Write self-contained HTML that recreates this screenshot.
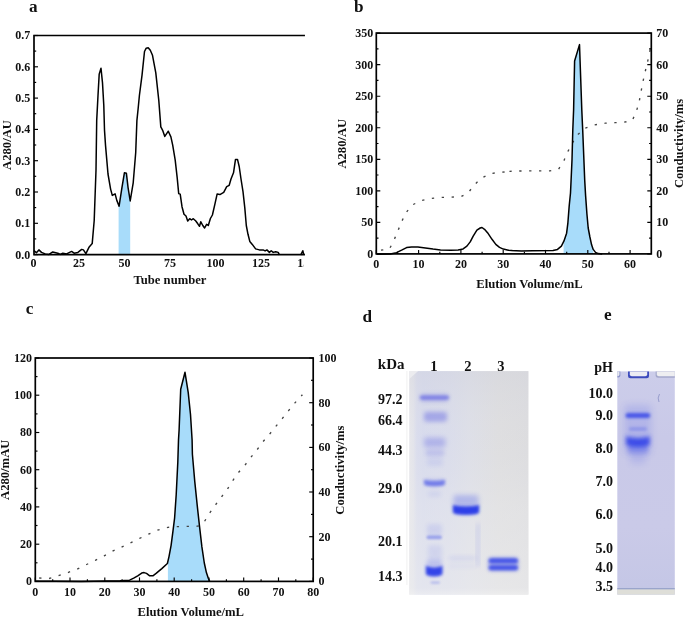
<!DOCTYPE html>
<html><head><meta charset="utf-8"><title>Figure</title>
<style>
html,body{margin:0;padding:0;background:#fff;}
svg{display:block;}
text{font-family:"Liberation Serif","DejaVu Serif",serif;font-weight:bold;fill:#111;}
.t{font-size:12px;}
.l{font-size:12.65px;}
.p{font-size:17.2px;}
.g{font-size:14px;}
.ax{stroke:#000;stroke-width:1.7;fill:none;stroke-linecap:square;}
.tk{stroke:#000;stroke-width:1.15;fill:none;}
.cv{stroke:#000;stroke-width:1.5;fill:none;stroke-linejoin:round;}
.dt{stroke:#444;stroke-width:1.35;fill:none;}
.fl{fill:#a8dcfa;stroke:none;}
</style></head><body>
<svg width="685" height="617" viewBox="0 0 685 617">
<rect width="685" height="617" fill="#fff"/>
<defs>
<filter id="b1" x="-30%" y="-100%" width="160%" height="300%"><feGaussianBlur stdDeviation="1.2"/></filter>
<filter id="b2" x="-30%" y="-100%" width="160%" height="300%"><feGaussianBlur stdDeviation="2"/></filter>
<filter id="b3" x="-30%" y="-100%" width="160%" height="300%"><feGaussianBlur stdDeviation="3.5"/></filter>
<filter id="b15" x="-30%" y="-100%" width="160%" height="300%"><feGaussianBlur stdDeviation="1.5"/></filter>
<filter id="b25" x="-30%" y="-100%" width="160%" height="300%"><feGaussianBlur stdDeviation="2.5"/></filter>
<filter id="b05" x="-30%" y="-100%" width="160%" height="300%"><feGaussianBlur stdDeviation="0.7"/></filter>
</defs>

<g id="pa">
<text class="p" x="28.9" y="11.7">a</text>
<path class="fl" d="M118.6,254.9 L118.6,205.4 L119.1,206.2 L121.9,187.8 L124.4,172.8 L126.4,173.3 L128.1,187.8 L130.2,200.9 L130.2,254.9Z"/>
<path class="cv" d="M33.9,250.7 L36.4,252.7 L38.9,249.9 L41.5,252.4 L45.2,253.9 L49.0,254.4 L52.8,251.9 L57.8,253.2 L60.3,254.4 L62.8,253.2 L66.6,253.9 L71.6,251.4 L74.1,253.2 L77.9,252.4 L81.7,249.4 L83.4,249.9 L85.9,253.7 L89.2,246.9 L92.2,243.6 L94.2,220.5 L96.0,170.3 L96.7,120.6 L98.0,95.5 L99.2,74.1 L101.0,68.3 L102.5,82.9 L103.8,105.5 L104.5,130.1 L105.5,145.1 L108.0,174.0 L110.6,189.1 L112.3,195.4 L115.1,193.9 L116.8,200.4 L119.1,206.2 L121.9,187.8 L124.4,172.8 L126.4,173.3 L128.1,187.8 L130.2,200.9 L133.2,182.8 L135.7,152.7 L136.9,120.6 L138.2,108.0 L139.4,95.5 L142.0,75.4 L144.5,51.5 L146.2,48.2 L148.2,47.7 L150.3,50.3 L152.5,55.3 L155.8,72.9 L158.8,100.5 L160.8,126.9 L162.8,130.7 L164.8,136.4 L168.3,131.2 L170.9,136.9 L172.7,145.1 L175.2,160.2 L177.2,177.8 L178.7,193.6 L180.2,194.1 L182.0,206.7 L184.0,214.2 L186.0,216.0 L187.7,221.0 L189.7,218.7 L191.5,220.0 L193.3,218.7 L195.8,221.0 L197.8,223.8 L199.5,226.3 L200.8,221.8 L202.8,225.5 L204.6,228.0 L206.6,224.3 L208.3,225.5 L210.4,218.5 L212.4,215.0 L214.9,204.2 L217.1,194.1 L219.9,194.6 L223.7,192.4 L226.7,186.6 L229.2,185.3 L231.0,179.0 L233.5,172.8 L235.5,159.4 L237.5,159.4 L239.2,166.5 L241.0,179.0 L243.0,191.6 L244.8,207.9 L246.3,225.5 L248.0,234.3 L249.8,241.4 L252.3,244.4 L255.6,248.9 L259.3,249.9 L263.1,249.9 L265.1,250.9 L266.9,249.9 L269.4,252.4 L271.2,250.7 L273.2,252.4 L275.7,251.7 L278.2,252.4 L279.4,254.9"/>
<path class="cv" d="M300.8,254.9 L302.8,250.7 L303.8,254.9"/>
<path class="ax" d="M304.1,35.5 H34 V254.6 H304.1"/>
<path class="tk" d="M34,254.6 h4"/>
<text class="t" x="30.2" y="258.5" text-anchor="end">0.0</text>
<path class="tk" d="M34,238.9 h2.2"/>
<path class="tk" d="M34,223.3 h4"/>
<text class="t" x="30.2" y="227.2" text-anchor="end">0.1</text>
<path class="tk" d="M34,207.6 h2.2"/>
<path class="tk" d="M34,192.0 h4"/>
<text class="t" x="30.2" y="195.9" text-anchor="end">0.2</text>
<path class="tk" d="M34,176.3 h2.2"/>
<path class="tk" d="M34,160.7 h4"/>
<text class="t" x="30.2" y="164.6" text-anchor="end">0.3</text>
<path class="tk" d="M34,145.0 h2.2"/>
<path class="tk" d="M34,129.4 h4"/>
<text class="t" x="30.2" y="133.3" text-anchor="end">0.4</text>
<path class="tk" d="M34,113.7 h2.2"/>
<path class="tk" d="M34,98.1 h4"/>
<text class="t" x="30.2" y="102.0" text-anchor="end">0.5</text>
<path class="tk" d="M34,82.4 h2.2"/>
<path class="tk" d="M34,66.8 h4"/>
<text class="t" x="30.2" y="70.7" text-anchor="end">0.6</text>
<path class="tk" d="M34,51.1 h2.2"/>
<path class="tk" d="M34,35.5 h4"/>
<text class="t" x="30.2" y="39.4" text-anchor="end">0.7</text>
<text class="t" x="33.6" y="267.4" text-anchor="middle">0</text>
<text class="t" x="79.1" y="267.4" text-anchor="middle">25</text>
<text class="t" x="124.6" y="267.4" text-anchor="middle">50</text>
<text class="t" x="170.1" y="267.4" text-anchor="middle">75</text>
<text class="t" x="215.6" y="267.4" text-anchor="middle">100</text>
<text class="t" x="261.1" y="267.4" text-anchor="middle">125</text>
<clipPath id="ca"><rect x="0" y="255" width="304.1" height="20"/></clipPath>
<text class="t" x="306.2" y="267.4" text-anchor="middle" clip-path="url(#ca)">150</text>
<text class="l" x="170" y="283.5" text-anchor="middle">Tube number</text>
<text class="l" transform="translate(11,145) rotate(-90)" text-anchor="middle">A280/AU</text>
</g>
<g id="pb">
<text class="p" x="353.9" y="11.7">b</text>
<path class="fl" d="M563.6,254 L563.6,241.7 L564,240.9 L566.6,233.2 L567.9,222.8 L569.2,205.9 L570.5,193 L571.1,180 L572,160 L572.8,130 L573.6,110 L574.6,61 L579.5,44.6 L581.8,110 L582.7,130 L584.7,180 L585.6,195.6 L586.9,213.7 L588.2,228 L589.9,237 L591.6,244.8 L593.2,249.4 L593.2,254Z"/>
<path class="dt" stroke-dasharray="2.3 7.6" d="M381.0,250.2 L389.5,248.9 L394.0,240.1 L398.0,230.6 L401.8,221.3 L406.1,212.5 L412.4,204.9 L421.7,200.4 L431.0,198.4 L441.0,197.4 L451.3,197.1 L461.1,196.6 L468.1,192.9 L474.4,184.8 L481.2,178.3 L490.8,173.5 L500.8,172.3 L510.9,171.5 L509.5,171.3 L519.7,171.0 L529.7,170.8 L540.5,170.8 L550.0,170.8 L558.6,169.1 L564.0,160.5 L568.1,151.1 L572.4,143.0 L577.0,135.4 L585.1,128.1 L594.5,124.9 L605.3,123.2 L614.8,122.7 L624.2,122.2 L632.3,120.5 L636.4,111.3 L639.1,102.1 L641.0,91.8 L643.1,81.0 L645.0,72.4 L647.2,63.5 L649.3,54.0 L650.4,48.6"/>
<path class="cv" d="M376.9,254.2 L390.3,253.9 L396.5,252.7 L401.6,250.2 L406.6,247.6 L411.6,246.9 L417.9,247.1 L425.4,247.9 L433.0,249.1 L440.5,249.9 L450.6,250.2 L458.1,249.9 L463.1,248.9 L466.9,246.1 L470.2,241.9 L473.2,236.1 L476.9,230.1 L480.2,228.0 L482.0,227.5 L484.5,229.3 L488.2,233.6 L492.0,239.3 L495.8,244.4 L499.5,247.4 L503.3,249.1 L508.3,250.2 L512.1,250.4 L510.8,250.4 L521.6,251.0 L532.4,250.7 L553,250.4 L557.5,249.4 L561.4,246.1 L564,240.9 L566.6,233.2 L567.9,222.8 L569.2,205.9 L570.5,193 L571.1,180 L572,160 L572.8,130 L573.6,110 L574.6,61 L579.5,44.6 L581.8,110 L582.7,130 L584.7,180 L585.6,195.6 L586.9,213.7 L588.2,228 L589.9,237 L591.6,244.8 L593.2,249.4 L595.5,252.4 L598.3,253.6 L602.2,254"/>
<rect class="ax" x="376.3" y="33.1" width="275.0" height="220.8"/>
<path class="tk" d="M376.3,253.9 h4 M651.3,253.9 h-4"/>
<text class="t" x="373.3" y="257.8" text-anchor="end">0</text>
<text class="t" x="656.3" y="257.8">0</text>
<path class="tk" d="M376.3,238.1 h2.2 M651.3,238.1 h-2.2"/>
<path class="tk" d="M376.3,222.4 h4 M651.3,222.4 h-4"/>
<text class="t" x="373.3" y="226.3" text-anchor="end">50</text>
<text class="t" x="656.3" y="226.3">10</text>
<path class="tk" d="M376.3,206.6 h2.2 M651.3,206.6 h-2.2"/>
<path class="tk" d="M376.3,190.8 h4 M651.3,190.8 h-4"/>
<text class="t" x="373.3" y="194.7" text-anchor="end">100</text>
<text class="t" x="656.3" y="194.7">20</text>
<path class="tk" d="M376.3,175.0 h2.2 M651.3,175.0 h-2.2"/>
<path class="tk" d="M376.3,159.3 h4 M651.3,159.3 h-4"/>
<text class="t" x="373.3" y="163.2" text-anchor="end">150</text>
<text class="t" x="656.3" y="163.2">30</text>
<path class="tk" d="M376.3,143.5 h2.2 M651.3,143.5 h-2.2"/>
<path class="tk" d="M376.3,127.7 h4 M651.3,127.7 h-4"/>
<text class="t" x="373.3" y="131.6" text-anchor="end">200</text>
<text class="t" x="656.3" y="131.6">40</text>
<path class="tk" d="M376.3,112.0 h2.2 M651.3,112.0 h-2.2"/>
<path class="tk" d="M376.3,96.2 h4 M651.3,96.2 h-4"/>
<text class="t" x="373.3" y="100.1" text-anchor="end">250</text>
<text class="t" x="656.3" y="100.1">50</text>
<path class="tk" d="M376.3,80.4 h2.2 M651.3,80.4 h-2.2"/>
<path class="tk" d="M376.3,64.6 h4 M651.3,64.6 h-4"/>
<text class="t" x="373.3" y="68.5" text-anchor="end">300</text>
<text class="t" x="656.3" y="68.5">60</text>
<path class="tk" d="M376.3,48.9 h2.2 M651.3,48.9 h-2.2"/>
<path class="tk" d="M376.3,33.1 h4 M651.3,33.1 h-4"/>
<text class="t" x="373.3" y="37.0" text-anchor="end">350</text>
<text class="t" x="656.3" y="37.0">70</text>
<path class="tk" d="M376.3,253.9 v-4"/>
<text class="t" x="376.3" y="268.2" text-anchor="middle">0</text>
<path class="tk" d="M397.5,253.9 v-2.2"/>
<path class="tk" d="M418.6,253.9 v-4"/>
<text class="t" x="418.6" y="268.2" text-anchor="middle">10</text>
<path class="tk" d="M439.8,253.9 v-2.2"/>
<path class="tk" d="M460.9,253.9 v-4"/>
<text class="t" x="460.9" y="268.2" text-anchor="middle">20</text>
<path class="tk" d="M482.1,253.9 v-2.2"/>
<path class="tk" d="M503.2,253.9 v-4"/>
<text class="t" x="503.2" y="268.2" text-anchor="middle">30</text>
<path class="tk" d="M524.4,253.9 v-2.2"/>
<path class="tk" d="M545.5,253.9 v-4"/>
<text class="t" x="545.5" y="268.2" text-anchor="middle">40</text>
<path class="tk" d="M566.7,253.9 v-2.2"/>
<path class="tk" d="M587.8,253.9 v-4"/>
<text class="t" x="587.8" y="268.2" text-anchor="middle">50</text>
<path class="tk" d="M609.0,253.9 v-2.2"/>
<path class="tk" d="M630.1,253.9 v-4"/>
<text class="t" x="630.1" y="268.2" text-anchor="middle">60</text>
<text class="l" x="529.5" y="287.6" text-anchor="middle">Elution Volume/mL</text>
<text class="l" transform="translate(346,143.7) rotate(-90)" text-anchor="middle">A280/AU</text>
<text class="l" transform="translate(682.8,143.5) rotate(-90)" text-anchor="middle">Conductivity/ms</text>
</g>
<g id="pc">
<text class="p" x="25.8" y="314.3">c</text>
<path class="fl" d="M167.9,581.2 L167.9,563.2 L169,556.6 L171.1,545.3 L173,530.9 L174.6,518 L176.2,494.8 L177.8,462.4 L178.5,440 L179.1,430 L180.7,389.2 L185,372.3 L188.2,392.4 L190.5,414.5 L192.1,440 L192.4,454.3 L194.8,481.9 L197.3,506.2 L199.5,526.1 L201.9,546.9 L204.3,563 L206.4,572.6 L208.3,578.2 L209,581.2Z"/>
<path class="dt" stroke-dasharray="2.3 7.6" d="M39.2,578.0 L48.7,578.6 L58.2,575.8 L67.7,572.6 L77.1,569.1 L86.6,564.5 L95.3,560.4 L104.2,555.8 L113.1,550.9 L121.3,547.3 L130.4,542.9 L139.6,538.4 L148.6,534.1 L157.7,530.1 L167.9,527.3 L177.8,526.6 L187.8,526.4 L197.6,526.2 L201,525 L204.4,521.6 L209.3,513.5 L215.1,505.4 L221.2,497.3 L227.2,489.5 L232.8,480.5 L238.7,472.2 L244.3,466.0 L250.6,457.7 L257.1,449.7 L263.0,441.7 L269.5,434.3 L275.7,426.5 L282.3,418.5 L288.2,411.1 L294.7,403.1 L301.5,395.7 L302.4,394.7"/>
<path class="cv" d="M35.2,581.3 L54.1,581.3 L81.2,581.5 L120,580.7 L129.6,580.2 L133.7,578.2 L137.7,575.8 L141.7,573.1 L144.1,572.6 L146.5,573.4 L149.7,575.8 L152.9,575.8 L156.1,573.4 L161.8,568.6 L167.4,563.5 L169,556.6 L171.1,545.3 L173,530.9 L174.6,518 L176.2,494.8 L177.8,462.4 L178.5,440 L179.1,430 L180.7,389.2 L185,372.3 L188.2,392.4 L190.5,414.5 L192.1,440 L192.4,454.3 L194.8,481.9 L197.3,506.2 L199.5,526.1 L201.9,546.9 L204.3,563 L206.4,572.6 L208.3,578.2 L209.6,581.1"/>
<rect class="ax" x="35.3" y="358" width="277.9" height="223.4"/>
<path class="tk" d="M35.3,581.4 h4"/>
<text class="t" x="31.9" y="585.3" text-anchor="end">0</text>
<path class="tk" d="M35.3,562.8 h2.2"/>
<path class="tk" d="M35.3,544.2 h4"/>
<text class="t" x="31.9" y="548.1" text-anchor="end">20</text>
<path class="tk" d="M35.3,525.5 h2.2"/>
<path class="tk" d="M35.3,506.9 h4"/>
<text class="t" x="31.9" y="510.8" text-anchor="end">40</text>
<path class="tk" d="M35.3,488.3 h2.2"/>
<path class="tk" d="M35.3,469.7 h4"/>
<text class="t" x="31.9" y="473.6" text-anchor="end">60</text>
<path class="tk" d="M35.3,451.1 h2.2"/>
<path class="tk" d="M35.3,432.5 h4"/>
<text class="t" x="31.9" y="436.4" text-anchor="end">80</text>
<path class="tk" d="M35.3,413.9 h2.2"/>
<path class="tk" d="M35.3,395.2 h4"/>
<text class="t" x="31.9" y="399.1" text-anchor="end">100</text>
<path class="tk" d="M35.3,376.6 h2.2"/>
<path class="tk" d="M35.3,358.0 h4"/>
<text class="t" x="31.9" y="361.9" text-anchor="end">120</text>
<path class="tk" d="M313.2,581.4 h-4"/>
<text class="t" x="318.5" y="585.3">0</text>
<path class="tk" d="M313.2,559.1 h-2.2"/>
<path class="tk" d="M313.2,536.7 h-4"/>
<text class="t" x="318.5" y="540.6">20</text>
<path class="tk" d="M313.2,514.4 h-2.2"/>
<path class="tk" d="M313.2,492.0 h-4"/>
<text class="t" x="318.5" y="495.9">40</text>
<path class="tk" d="M313.2,469.7 h-2.2"/>
<path class="tk" d="M313.2,447.4 h-4"/>
<text class="t" x="318.5" y="451.3">60</text>
<path class="tk" d="M313.2,425.0 h-2.2"/>
<path class="tk" d="M313.2,402.7 h-4"/>
<text class="t" x="318.5" y="406.6">80</text>
<path class="tk" d="M313.2,380.3 h-2.2"/>
<path class="tk" d="M313.2,358.0 h-4"/>
<text class="t" x="318.5" y="361.9">100</text>
<path class="tk" d="M35.3,581.4 v-4"/>
<text class="t" x="35.3" y="595.9" text-anchor="middle">0</text>
<path class="tk" d="M52.7,581.4 v-2.2"/>
<path class="tk" d="M70.0,581.4 v-4"/>
<text class="t" x="70.0" y="595.9" text-anchor="middle">10</text>
<path class="tk" d="M87.4,581.4 v-2.2"/>
<path class="tk" d="M104.8,581.4 v-4"/>
<text class="t" x="104.8" y="595.9" text-anchor="middle">20</text>
<path class="tk" d="M122.1,581.4 v-2.2"/>
<path class="tk" d="M139.5,581.4 v-4"/>
<text class="t" x="139.5" y="595.9" text-anchor="middle">30</text>
<path class="tk" d="M156.9,581.4 v-2.2"/>
<path class="tk" d="M174.2,581.4 v-4"/>
<text class="t" x="174.2" y="595.9" text-anchor="middle">40</text>
<path class="tk" d="M191.6,581.4 v-2.2"/>
<path class="tk" d="M209.0,581.4 v-4"/>
<text class="t" x="209.0" y="595.9" text-anchor="middle">50</text>
<path class="tk" d="M226.4,581.4 v-2.2"/>
<path class="tk" d="M243.7,581.4 v-4"/>
<text class="t" x="243.7" y="595.9" text-anchor="middle">60</text>
<path class="tk" d="M261.1,581.4 v-2.2"/>
<path class="tk" d="M278.5,581.4 v-4"/>
<text class="t" x="278.5" y="595.9" text-anchor="middle">70</text>
<path class="tk" d="M295.8,581.4 v-2.2"/>
<path class="tk" d="M313.2,581.4 v-4"/>
<text class="t" x="313.2" y="595.9" text-anchor="middle">80</text>
<text class="l" x="190.8" y="616" text-anchor="middle">Elution Volume/mL</text>
<text class="l" transform="translate(8.7,469.8) rotate(-90)" text-anchor="middle">A280/mAU</text>
<text class="l" transform="translate(344.4,470.1) rotate(-90)" text-anchor="middle">Conductivity/ms</text>
</g>
<g id="pd">
<text class="p" x="362.5" y="322.1">d</text>
<linearGradient id="gd" x1="0" x2="1" y1="0" y2="0">
<stop offset="0" stop-color="#e9e9ec"/><stop offset="0.035" stop-color="#e4e5ec"/><stop offset="0.065" stop-color="#d9dcee"/><stop offset="0.12" stop-color="#d6daee"/>
<stop offset="0.34" stop-color="#d9dcec"/><stop offset="0.5" stop-color="#dddfe8"/><stop offset="0.75" stop-color="#dededf"/><stop offset="1" stop-color="#dcdcde"/></linearGradient>
<linearGradient id="gdv" x1="0" x2="0" y1="0" y2="1">
<stop offset="0" stop-color="#d2d3dc" stop-opacity="0.45"/><stop offset="0.3" stop-color="#e0e0e6" stop-opacity="0.15"/><stop offset="0.6" stop-color="#eaeaec" stop-opacity="0.4"/><stop offset="0.97" stop-color="#ececee" stop-opacity="0.6"/><stop offset="1" stop-color="#f2f2f2" stop-opacity="0.75"/></linearGradient>
<path d="M406.9,371 V585" stroke="#ececec" stroke-width="0.8"/>
<rect x="409.2" y="371.1" width="119.2" height="223.5" fill="url(#gd)"/>
<rect x="409.2" y="371.1" width="119.2" height="223.5" fill="url(#gdv)"/>
<path d="M409.2,371.1 h9 l-9,8 z" fill="#f0f0f2" opacity="0.8" filter="url(#b05)"/>
<clipPath id="cd"><rect x="409.2" y="371.1" width="119.2" height="223.5"/></clipPath>
<g clip-path="url(#cd)">
<rect x="420" y="393.8" width="28.5" height="8" rx="3" fill="#4a4ce0" opacity="0.22" filter="url(#b2)"/>
<rect x="419.8" y="395.5" width="29.4" height="4.2" rx="2.1" fill="#4446e2" opacity="0.5" filter="url(#b15)"/>
<rect x="424" y="411.8" width="23.0" height="10" rx="3" fill="#4a4ce0" opacity="0.36" filter="url(#b2)"/>
<rect x="424" y="437.5" width="21.5" height="10" rx="3" fill="#4a4ce0" opacity="0.28" filter="url(#b25)"/>
<rect x="425.5" y="450.0" width="19.0" height="6" rx="3.0" fill="#4a4ce0" opacity="0.2" filter="url(#b2)"/>
<rect x="427" y="458.0" width="16.0" height="8" rx="3" fill="#2f40e8" opacity="0.08" filter="url(#b2)"/>
<path d="M424,479.7 Q434.5,482.3 445,479.7 L445,484.1 Q445,486.3 434.5,486.5 Q424,486.3 424,484.1 Z" fill="#3a46e6" opacity="0.6" filter="url(#b15)"/>
<rect x="424.5" y="479.0" width="20.0" height="5" rx="2.5" fill="#2f40e8" opacity="0.15" filter="url(#b2)"/>
<rect x="428" y="491.0" width="13.0" height="6" rx="3.0" fill="#2f40e8" opacity="0.07" filter="url(#b2)"/>
<rect x="427" y="524.0" width="15.0" height="12" rx="3" fill="#2f40e8" opacity="0.1" filter="url(#b2)"/>
<rect x="426.5" y="535.6" width="15.5" height="3.6" rx="1.8" fill="#2f40e8" opacity="0.38" filter="url(#b1)"/>
<rect x="428" y="545.0" width="14.0" height="16" rx="3" fill="#2f40e8" opacity="0.09" filter="url(#b2)"/>
<rect x="426.5" y="560.0" width="15.5" height="8" rx="3" fill="#2f40e8" opacity="0.2" filter="url(#b2)"/>
<path d="M425.8,565.8 Q434.15,569.0 442.5,565.8 L442.5,573.5 Q442.5,576.2 434.15,576.5 Q425.8,576.2 425.8,573.5 Z" fill="#2f40e8" opacity="0.97" filter="url(#b15)"/>
<rect x="430.5" y="581.3" width="9.5" height="2.6" rx="1.3" fill="#2f40e8" opacity="0.22" filter="url(#b1)"/>
<rect x="453.5" y="495.0" width="25.0" height="12" rx="3" fill="#2f40e8" opacity="0.26" filter="url(#b25)"/>
<path d="M452.8,504.9 Q466.0,507.8 479.2,504.9 L479.2,512.2 Q479.2,514.7 466.0,514.9 Q452.8,514.7 452.8,512.2 Z" fill="#2f40e8" opacity="1" filter="url(#b15)"/>
<rect x="449" y="556.5" width="27.0" height="3.5" rx="1.75" fill="#2f40e8" opacity="0.1" filter="url(#b2)"/>
<rect x="449" y="564.2" width="27.0" height="3.5" rx="1.75" fill="#2f40e8" opacity="0.05" filter="url(#b2)"/>
<rect x="476.3" y="523.0" width="3.5" height="44" rx="3" fill="#2f40e8" opacity="0.12" filter="url(#b2)"/>
<rect x="488.5" y="557.7" width="29.5" height="13" rx="3" fill="#2f40e8" opacity="0.36" filter="url(#b2)"/>
<rect x="488.6" y="558.2" width="29.4" height="5" rx="2.5" fill="#2f40e8" opacity="0.8" filter="url(#b15)"/>
<rect x="488.6" y="565.2" width="29.4" height="5" rx="2.5" fill="#2f40e8" opacity="0.8" filter="url(#b15)"/>
</g>
<text class="g" x="377.8" y="369.4" style="font-size:15px">kDa</text>
<text class="g" x="378" y="404.2">97.2</text>
<text class="g" x="378" y="424.8">66.4</text>
<text class="g" x="378" y="454.6">44.3</text>
<text class="g" x="378" y="492.5">29.0</text>
<text class="g" x="378" y="546.1">20.1</text>
<text class="g" x="378" y="581.1">14.3</text>
<text class="g" x="433.9" y="371.3" text-anchor="middle" style="font-size:14.5px">1</text>
<text class="g" x="467.9" y="371.3" text-anchor="middle" style="font-size:14.5px">2</text>
<text class="g" x="500.8" y="371.3" text-anchor="middle" style="font-size:14.5px">3</text>
</g>
<g id="pe">
<text class="p" x="604" y="320">e</text>
<linearGradient id="ge" x1="0" x2="0" y1="0" y2="1">
<stop offset="0" stop-color="#cccdea"/><stop offset="0.3" stop-color="#c9c9e8"/><stop offset="0.7" stop-color="#cacae8"/><stop offset="0.96" stop-color="#c5c7e6"/><stop offset="1" stop-color="#c2c6e4"/></linearGradient>
<rect x="617.3" y="371.4" width="57.5" height="223.2" fill="url(#ge)"/>
<rect x="617.3" y="589.2" width="57.5" height="5.4" fill="#deded8"/>
<path d="M617.3,588.7 H674.8" stroke="#8d9ac2" stroke-width="1.1"/>
<clipPath id="ce"><rect x="617.3" y="371.4" width="57.5" height="223.2"/></clipPath>
<g clip-path="url(#ce)">
<rect x="628" y="366" width="21" height="12.2" rx="2.5" fill="#3d4bbd" filter="url(#b05)"/>
<rect x="629.8" y="366" width="17.4" height="10.2" rx="2" fill="#ececf3" filter="url(#b05)"/>
<rect x="655.6" y="366" width="22" height="11.8" rx="2.5" fill="#a4a8cc" filter="url(#b05)"/>
<rect x="656.8" y="366" width="22" height="10.3" rx="2" fill="#eeeef1" filter="url(#b05)"/>
<rect x="612" y="366" width="8.4" height="11.6" rx="2" fill="#8f97cc" filter="url(#b05)"/>
<rect x="612" y="366" width="7.4" height="10.2" rx="2" fill="#e6e8f0" filter="url(#b05)"/>
<path d="M659.5,394 q-2.5,4 -0.5,8" stroke="#8a90c4" stroke-width="0.8" fill="none" filter="url(#b05)"/>
<rect x="624.5" y="405.0" width="26.5" height="50" rx="3" fill="#2f40e8" opacity="0.15" filter="url(#b3)"/>
<rect x="625.5" y="413.0" width="24.7" height="5" rx="2.5" fill="#2f40e8" opacity="0.8" filter="url(#b15)"/>
<rect x="629" y="427.4" width="18.0" height="3.2" rx="1.6" fill="#2f40e8" opacity="0.32" filter="url(#b15)"/>
<path d="M626,436.2 Q637.9,439.8 649.8,436.2 L649.8,443.9 Q649.8,446.9 637.9,447.2 Q626,446.9 626,443.9 Z" fill="#2f40e8" opacity="0.88" filter="url(#b2)"/>
<rect x="628" y="444.5" width="20.0" height="9" rx="3" fill="#2f40e8" opacity="0.3" filter="url(#b2)"/>
<rect x="630" y="452.0" width="16.0" height="12" rx="3" fill="#2f40e8" opacity="0.12" filter="url(#b3)"/>
</g>
<text class="g" x="594.3" y="372.1">pH</text>
<text class="g" x="613" y="398.1" text-anchor="end">10.0</text>
<text class="g" x="613" y="420.2" text-anchor="end">9.0</text>
<text class="g" x="613" y="453.3" text-anchor="end">8.0</text>
<text class="g" x="613" y="485.9" text-anchor="end">7.0</text>
<text class="g" x="613" y="518.9" text-anchor="end">6.0</text>
<text class="g" x="613" y="552.7" text-anchor="end">5.0</text>
<text class="g" x="613" y="572" text-anchor="end">4.0</text>
<text class="g" x="613" y="591.2" text-anchor="end">3.5</text>
</g>
</svg></body></html>
